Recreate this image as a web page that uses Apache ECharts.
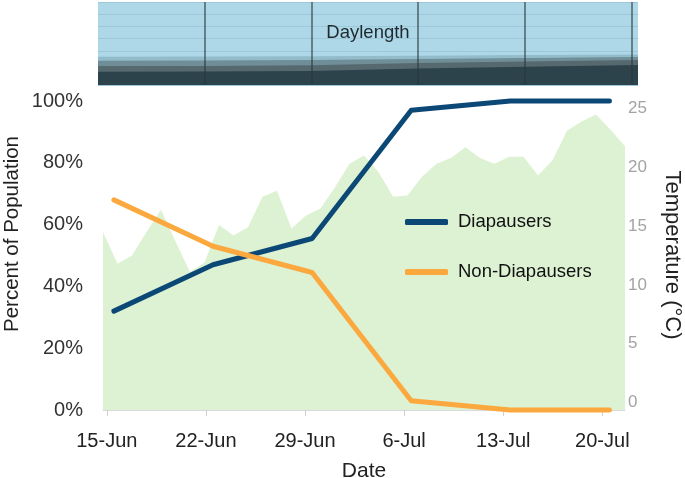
<!DOCTYPE html>
<html>
<head>
<meta charset="utf-8">
<script src="https://cdn.jsdelivr.net/npm/echarts@6.0.0/dist/echarts.min.js"></script>
<style>
html,body{margin:0;padding:0;background:#fff;}
#chart{width:685px;height:478px;}
</style>
</head>
<body>
<div id="chart"></div>
<script>
// ---- data ----
const dateLabels = ['15-Jun', '22-Jun', '29-Jun', '6-Jul', '13-Jul', '20-Jul'];
const tickDays = [0, 7, 14, 21, 28, 35];
const sampleDays = [0.5, 7.5, 14.5, 21.5, 28.5, 35.5];
const diapausers = [0.32, 0.47, 0.555, 0.97, 1.0, 1.0];
const nonDiapausers = [0.68, 0.53, 0.445, 0.03, 0.0, 0.0];
const temperature = [14.5, 11.8, 12.5, 14.5, 16.4, 13.7, 11.1, 11.9, 15.1, 14.2, 14.9, 17.5, 18.0, 14.8, 15.9, 16.5, 18.3, 20.3, 21.0, 19.6, 17.5, 17.6, 19.2, 20.3, 20.8, 21.7, 20.8, 20.3, 20.9, 20.9, 19.3, 20.6, 23.1, 23.9, 24.5, 23.2, 21.8];
const tempTicks = [0, 5, 10, 15, 20, 25];
// daylength strip (depth from top of strip; night layers grow over time)
const dayX = [0, 1, 2, 3, 4, 5.06];
const weekDividers = [1, 2, 3, 4, 5];
const dawnEdge = [4.48, 4.47, 4.45, 4.40, 4.35, 4.30];
const twilightEdge = [4.81, 4.80, 4.76, 4.66, 4.58, 4.50];
const duskEdge = [5.25, 5.24, 5.19, 5.00, 4.88, 4.76];
const nightEdge = [5.71, 5.70, 5.66, 5.44, 5.30, 5.16];

const FONT = 'Liberation Sans, Arial, sans-serif';
const chart = echarts.init(document.getElementById('chart'), null, {renderer: 'canvas'});

function pairs(xs, ys) { return xs.map((x, i) => [x, ys[i]]); }
function stripLayer(name, edge, color, extra) {
  return Object.assign({
    name: name, type: 'line', xAxisIndex: 2, yAxisIndex: 2,
    data: pairs(dayX, edge), showSymbol: false, symbol: 'none', silent: true,
    lineStyle: {width: 0}, areaStyle: {color: color, opacity: 1, origin: 'end'},
    animation: false
  }, extra || {});
}

const option = {
  animation: false,
  backgroundColor: '#ffffff',
  textStyle: {fontFamily: FONT},
  grid: [
    {left: 103, right: 60, top: 101, bottom: 68, containLabel: false, outerBoundsMode: 'none'},
    {left: 98, width: 540, top: 2, height: 83, show: true, backgroundColor: '#aed8e8', borderWidth: 0, containLabel: false, outerBoundsMode: 'none'}
  ],
  legend: {
    data: ['Diapausers', 'Non-Diapausers'],
    orient: 'vertical', left: 400, top: 206,
    itemWidth: 43, itemHeight: 6, itemGap: 28, icon: 'roundRect',
    textStyle: {fontSize: 18.5, color: '#111', lineHeight: 22, padding: [0, 0, 0, 5], fontFamily: FONT}
  },
  xAxis: [
    {
      type: 'value', gridIndex: 0, min: -0.27, max: 36.6,
      axisLine: {show: true, lineStyle: {color: '#dadada', width: 1}},
      axisTick: {show: true, customValues: tickDays, length: 6, lineStyle: {color: '#d0d0d0'}},
      axisLabel: {customValues: tickDays, formatter: v => dateLabels[tickDays.indexOf(v)], fontSize: 20, color: '#222', margin: 21, fontFamily: FONT},
      splitLine: {show: false},
      name: 'Date', nameLocation: 'middle', nameGap: 51,
      nameTextStyle: {fontSize: 21, color: '#222', fontFamily: FONT}
    },
    {
      type: 'category', gridIndex: 0, show: false, boundaryGap: false,
      data: temperature.map((_, i) => String(i))
    },
    {
      type: 'value', gridIndex: 1, min: 0, max: 5.06, show: false
    }
  ],
  yAxis: [
    {
      type: 'value', gridIndex: 0, min: 0, max: 1, interval: 0.2, position: 'left',
      axisLine: {show: false}, axisTick: {show: false}, splitLine: {show: false},
      axisLabel: {formatter: v => Math.round(v * 100) + '%', fontSize: 20, color: '#333', margin: 20, padding: [6, 0, 0, 0], fontFamily: FONT}
    },
    {
      type: 'value', gridIndex: 0, min: -0.64, max: 25.64, position: 'right',
      axisLine: {show: false}, axisTick: {show: false}, splitLine: {show: false},
      axisLabel: {customValues: tempTicks, fontSize: 17, color: '#a3a3a3', margin: 3, padding: [8, 0, 0, 0], fontFamily: FONT}
    },
    {
      type: 'value', gridIndex: 1, min: 0, max: 6.8, interval: 1, inverse: true,
      axisLine: {show: false}, axisTick: {show: false}, axisLabel: {show: false},
      splitLine: {show: true, lineStyle: {color: '#9cc8d9', width: 1.2}}
    }
  ],
  graphic: [
    {type: 'text', x: 12, y: 234, rotation: Math.PI / 2,
     style: {text: 'Percent of Population', fontSize: 20.5, fill: '#222', fontFamily: FONT, textAlign: 'center', textVerticalAlign: 'middle'}},
    {type: 'text', x: 672, y: 255, rotation: -Math.PI / 2,
     style: {text: 'Temperature (°C)', fontSize: 22, fill: '#222', fontFamily: FONT, textAlign: 'center', textVerticalAlign: 'middle'}},
    {type: 'text', x: 368, y: 33, z: 100,
     style: {text: 'Daylength', fontSize: 18.5, fill: '#1e2a30', fontFamily: FONT, textAlign: 'center', textVerticalAlign: 'middle'}}
  ],
  series: [
    {
      name: 'Temperature', type: 'line', xAxisIndex: 1, yAxisIndex: 1,
      data: temperature, symbol: 'none', showSymbol: false, silent: true, z: 1,
      lineStyle: {width: 0}, areaStyle: {color: '#dcf2d3', opacity: 1, origin: 'start'}
    },
    {
      name: 'Diapausers', type: 'line', xAxisIndex: 0, yAxisIndex: 0,
      data: pairs(sampleDays, diapausers), symbol: 'none', showSymbol: false, clip: false, z: 3,
      color: '#0c4876',
      lineStyle: {width: 5, color: '#0c4876', cap: 'round', join: 'round'}
    },
    {
      name: 'Non-Diapausers', type: 'line', xAxisIndex: 0, yAxisIndex: 0,
      data: pairs(sampleDays, nonDiapausers), symbol: 'none', showSymbol: false, clip: false, z: 3,
      color: '#fba83f',
      lineStyle: {width: 5, color: '#fba83f', cap: 'round', join: 'round'}
    },
    stripLayer('dawn', dawnEdge, '#93bccb'),
    stripLayer('twilight', twilightEdge, '#6f8e97'),
    stripLayer('dusk', duskEdge, '#56696f'),
    stripLayer('night', nightEdge, '#2c434b', {
      markLine: {
        silent: true, symbol: 'none', animation: false,
        label: {show: false},
        lineStyle: {color: 'rgba(40,55,60,0.55)', width: 2, type: 'solid'},
        data: weekDividers.map(v => ({xAxis: v}))
      }
    })
  ]
};
chart.setOption(option);
</script>
</body>
</html>
